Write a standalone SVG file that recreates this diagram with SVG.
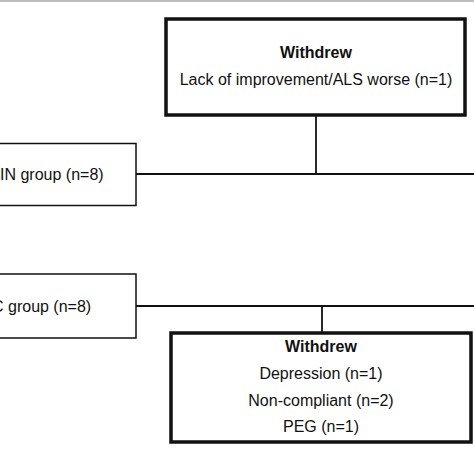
<svg xmlns="http://www.w3.org/2000/svg" width="474" height="474" viewBox="0 0 474 474">
<style>
.t{font-family:"Liberation Sans",Arial,sans-serif;font-size:16px;fill:#111;text-anchor:middle}
.b{font-weight:bold}
.thin{fill:#fff;stroke:#111;stroke-width:1.5}
.thick{fill:#fff;stroke:#111;stroke-width:3.5}
.c{stroke:#111;stroke-width:1.8;fill:none}
</style>
<rect x="0" y="0" width="474" height="474" fill="#fff"/>
<rect x="0" y="0" width="474" height="2" fill="#bdbdbd"/>
<g id="connectors">
<line class="c" x1="316" y1="115" x2="316" y2="174"/>
<line class="c" x1="136" y1="174" x2="474" y2="174"/>
<line class="c" x1="136" y1="306" x2="474" y2="306"/>
<line class="c" x1="322" y1="306" x2="322" y2="332"/>
</g>
<g id="withdrew-top">
<rect class="thick" x="166" y="19" width="299" height="96"/>
<text class="t b" x="316" y="58">Withdrew</text>
<text class="t" x="316" y="85">Lack of improvement/ALS worse (n=1)</text>
</g>
<g id="group-in">
<rect class="thin" x="-5" y="143.5" width="141" height="62"/>
<text class="t" x="0" y="180" style="text-anchor:start">IN group (n=8)</text>
</g>
<g id="group-c">
<rect class="thin" x="-5" y="274" width="141" height="64"/>
<text class="t" x="-8" y="312" style="text-anchor:start">C group (n=8)</text>
</g>
<g id="withdrew-bottom">
<rect class="thick" x="171" y="333" width="300" height="109"/>
<text class="t b" x="321" y="352">Withdrew</text>
<text class="t" x="321" y="379">Depression (n=1)</text>
<text class="t" x="321" y="406">Non-compliant (n=2)</text>
<text class="t" x="321" y="432">PEG (n=1)</text>
</g>
</svg>
